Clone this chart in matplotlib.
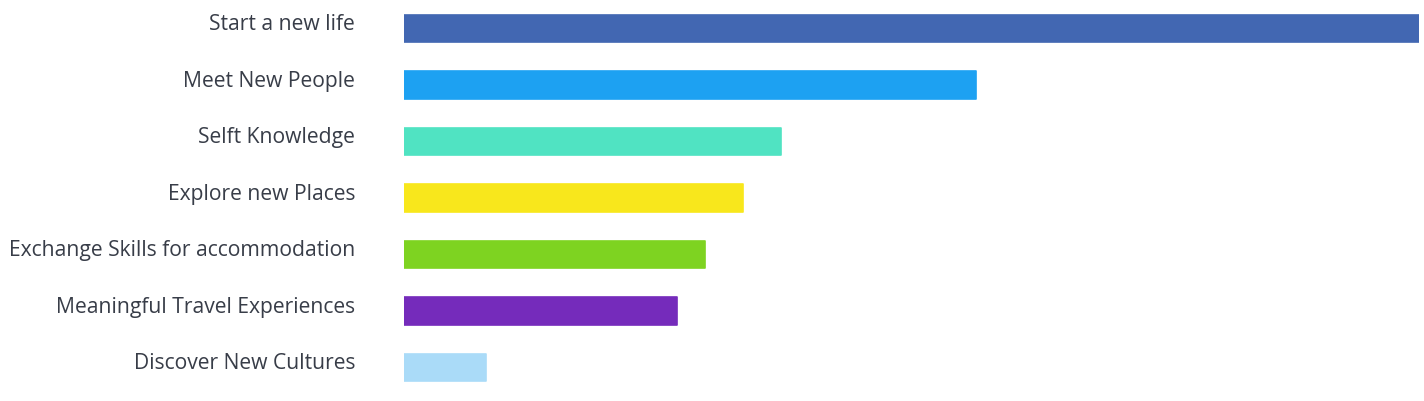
import matplotlib
matplotlib.use("Agg")
import matplotlib.pyplot as plt
import matplotlib.transforms as mtransforms

categories = ["Start a new life", "Meet New People", "Selft Knowledge",
              "Explore new Places", "Exchange Skills for accommodation",
              "Meaningful Travel Experiences", "Discover New Cultures"]
values = [100, 56.4, 37.1, 33.4, 29.7, 26.9, 8.1]
colors = ["#4267b2", "#1da1f2", "#50e3c2", "#f8e71c", "#7ed321", "#752bbb", "#aadbf8"]

W, H = 1424, 402
fig = plt.figure(figsize=(W / 100, H / 100), dpi=100)
left, right = 404, 1419
top, bottom = 29.8 - 57.2 / 2, 368.1 + 57.2 / 2
ax = fig.add_axes([left / W, 1 - bottom / H, (right - left) / W, (bottom - top) / H])

ypos = list(range(len(categories)))
bars = ax.barh(ypos, values, height=0.48, color=colors, edgecolor=colors,
               linewidth=1.2, joinstyle="round")
ax.set_xlim(0, max(values))
ax.set_ylim(len(categories) - 0.5, -0.5)
ax.axis("off")

offset = mtransforms.ScaledTranslation(0, 4.5 / 100, fig.dpi_scale_trans)
for y, lab in zip(ypos, categories):
    ax.text(-(left - 355) / (right - left) * max(values), y, lab,
            ha="right", va="center", fontsize=15.2, family="Open Sans",
            color="#383d48", transform=ax.transData + offset)

fig.savefig("out.png", dpi=100)
